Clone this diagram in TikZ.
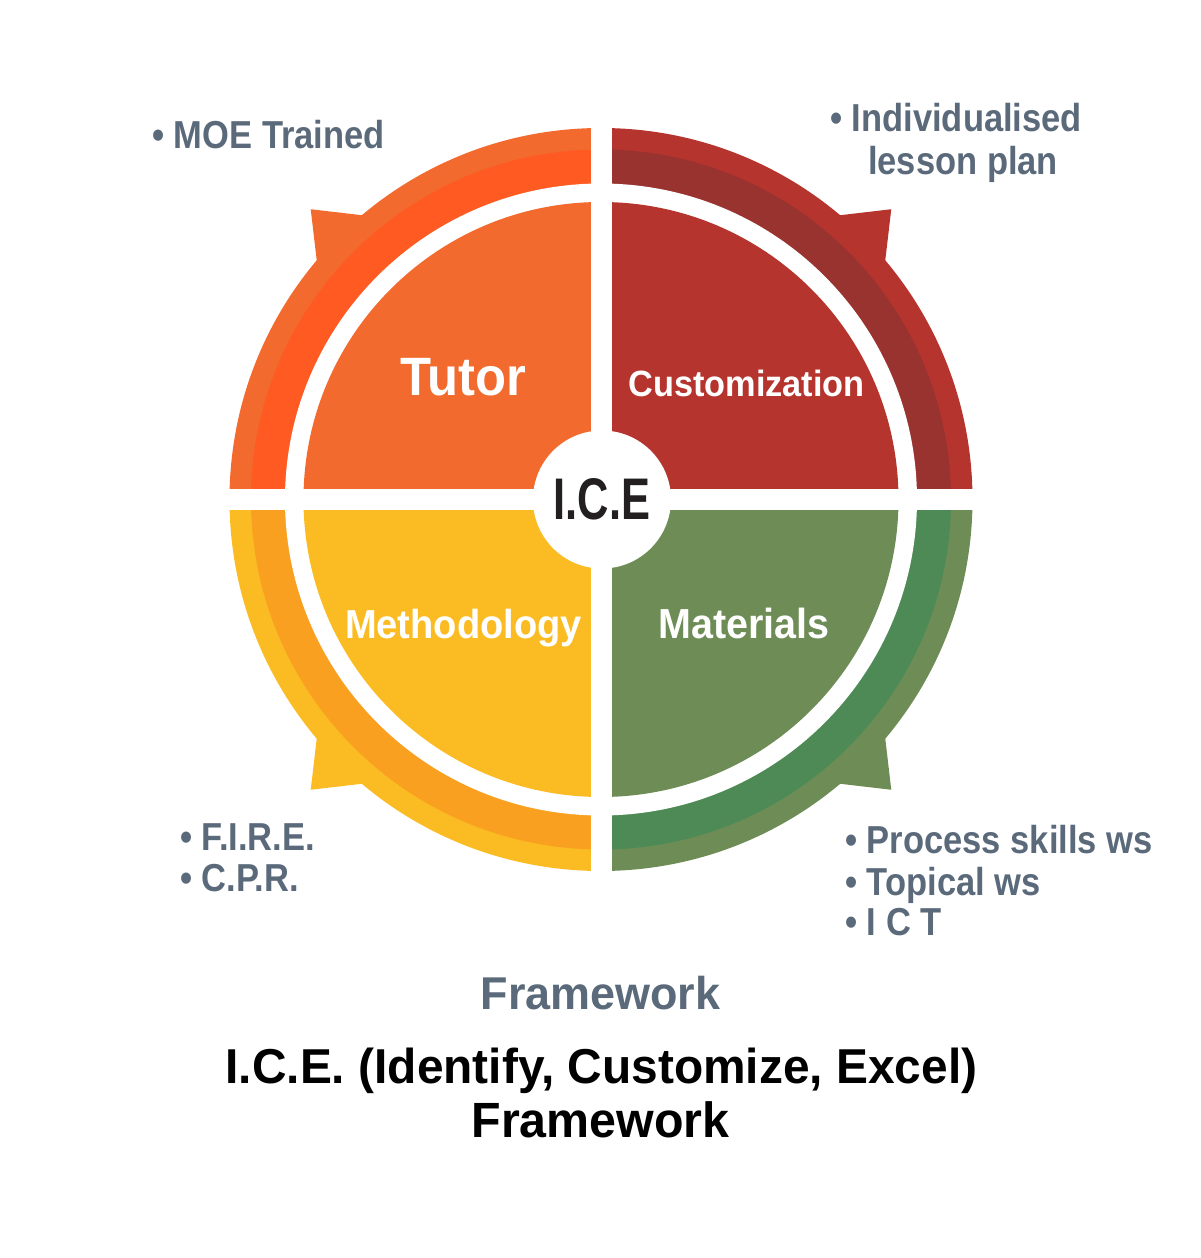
\documentclass[tikz,border=0pt]{standalone}
\usepackage{fontspec}
\newfontfamily\notefont{Liberation Sans}[FakeStretch=0.885]
\newfontfamily\partfont{Liberation Sans}[FakeStretch=0.94]
\newfontfamily\titlefont{Liberation Sans}[FakeStretch=0.977]
\newfontfamily\hubfont{Liberation Sans}[FakeStretch=0.74]
\definecolor{tutorC}{HTML}{F26A2E}
\definecolor{tutorS}{HTML}{FF5A22}
\definecolor{custC}{HTML}{B5342E}
\definecolor{custS}{HTML}{98332F}
\definecolor{methC}{HTML}{FBBC23}
\definecolor{methS}{HTML}{F9A020}
\definecolor{matC}{HTML}{6E8C55}
\definecolor{matS}{HTML}{4D8A55}
\definecolor{noteC}{HTML}{5B6A7A}
\definecolor{iceC}{HTML}{231F20}
\tikzset{
        note/.style={text=noteC, inner sep=0pt, anchor=base west, font=\notefont\bfseries\fontsize{39}{42}\selectfont},
        part/.style={text=white, inner sep=0pt, anchor=base, font=\partfont\bfseries\fontsize{#1}{#1}\selectfont},
        headline/.style={text=black, inner sep=0pt, anchor=base, font=\titlefont\bfseries\fontsize{#1}{#1}\selectfont},
        hub/.style={circle, fill=white, minimum size=138pt, inner sep=0pt, text=iceC, font=\hubfont\bfseries\fontsize{58.7}{60}\selectfont},
        gap/.style={fill=white}
          }
\begin{document}
\begin{tikzpicture}[x=1pt, y=1pt]
            \useasboundingbox (-601,-758.5) rectangle (599,499.5);
            % rings, tabs and quarter discs
            \foreach \a/\band/\stripe in {90/tutorC/tutorS, 0/custC/custS, 180/methC/methS, 270/matC/matS}{
              \fill[\band] (0,0) -- (\a:371.5) arc[start angle=\a, delta angle=90, radius=371.5pt] -- cycle;
              \fill[\band] (\a+40:371) -- (\a+45:410.5) -- (\a+50:371) -- cycle;
              \fill[\stripe] (0,0) -- (\a:350) arc[start angle=\a, delta angle=90, radius=350pt] -- cycle;
              \fill[gap] (0,0) -- (\a:316) arc[start angle=\a, delta angle=90, radius=316pt] -- cycle;
              \fill[\band] (0,0) -- (\a:297.5) arc[start angle=\a, delta angle=90, radius=297.5pt] -- cycle;
            }
            \fill[gap] (-400,-10.5) rectangle (400,10.5);
            \fill[gap] (-10.5,-400) rectangle (10.5,400);
            \node[hub] (ice) at (1,0) {I.C.E};
            \node[part=54] (tutor) at (-138,103.5) {Tutor};
            \node[part=36.5] (custom) at (145.5,102.8) {Customization};
            \node[part=40.5] (method) at (-137.5,-138.8) {Methodology};
            \node[part=42] (material) at (143,-138.5) {Materials};
            % notes
            \node[note] (moe) at (-449,351.2) {• MOE Trained};
            \node[note] (indiv) at (229,367.8) {• Individualised};
            \node[note] (lesson) at (267,324.5) {lesson plan};
            \node[note] (fire) at (-421,-351.2) {• F.I.R.E.};
            \node[note] (cpr) at (-421,-392.2) {• C.P.R.};
            \node[note] (process) at (244,-353.8) {• Process skills ws};
            \node[note] (topical) at (244,-395.5) {• Topical ws};
            \node[note] (ict) at (244,-435.5) {• I C T};
            % captions
            \node[headline=46, text=noteC] (caption) at (-0.5,-509.8) {Framework};
            \node[headline=49] (title) at (0.5,-583.8) {I.C.E. (Identify, Customize, Excel)};
            \node[headline=49.5] (titlefw) at (-0.5,-637.8) {Framework};
\end{tikzpicture}
\end{document}
